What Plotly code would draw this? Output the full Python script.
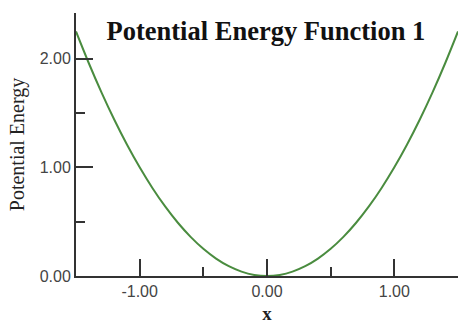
import plotly.graph_objects as go

# Data
x_vals = [-1.5, -1.4, -1.3, -1.2, -1.1, -1.0, -0.9, -0.8, -0.7, -0.6, -0.5, -0.4, -0.3, -0.2, -0.1,
          0.0, 0.1, 0.2, 0.3, 0.4, 0.5, 0.6, 0.7, 0.8, 0.9, 1.0, 1.1, 1.2, 1.3, 1.4, 1.5]
energy = [2.25, 1.96, 1.69, 1.44, 1.21, 1.00, 0.81, 0.64, 0.49, 0.36, 0.25, 0.16, 0.09, 0.04, 0.01,
          0.00, 0.01, 0.04, 0.09, 0.16, 0.25, 0.36, 0.49, 0.64, 0.81, 1.00, 1.21, 1.44, 1.69, 1.96, 2.25]

x_tickvals = [-1, 0, 1]
x_ticktext = ["-1.00", "0.00", "1.00"]
y_tickvals = [0, 1, 2]
y_ticktext = ["0.00", "1.00", "2.00"]

fig = go.Figure()
fig.add_trace(go.Scatter(
    x=x_vals, y=energy, mode="lines",
    line=dict(color="#4a8c3f", width=2, shape="spline"),
    showlegend=False,
))

axis_common = dict(
    showline=True, linewidth=2, linecolor="#333333", mirror=False,
    showgrid=False, zeroline=False, automargin=False,
    ticks="inside", ticklen=17, tickwidth=2, tickcolor="#333333",
    tickfont=dict(family="Liberation Sans, Arial, sans-serif", size=16, color="#444444"),
    minor=dict(ticks="inside", ticklen=9, tickwidth=2, tickcolor="#333333", dtick=0.5, tick0=0),
)

fig.update_layout(
    width=474, height=324,
    margin=dict(l=76, r=16, t=13, b=48),
    paper_bgcolor="white", plot_bgcolor="white",
    title=dict(
        text="<b>Potential Energy Function 1</b>",
        font=dict(family="Liberation Serif, Times New Roman, serif", size=26.5, color="#111111"),
        x=0.561, xanchor="center", xref="container",
        y=1 - 31 / 324, yanchor="middle", yref="container",
    ),
    xaxis=dict(
        range=[-1.5, 1.5],
        tickmode="array", tickvals=x_tickvals, ticktext=x_ticktext,
        title=dict(text="<b>x</b>", font=dict(family="Liberation Serif, Times New Roman, serif", size=19, color="#222222"), standoff=8),
        **axis_common,
    ),
    yaxis=dict(
        range=[0, 2.42],
        tickmode="array", tickvals=y_tickvals, ticktext=y_ticktext,
        title=dict(text="Potential Energy", font=dict(family="Liberation Serif, Times New Roman, serif", size=20, color="#222222"), standoff=10),
        **axis_common,
    ),
)

fig.write_html("out.html")
